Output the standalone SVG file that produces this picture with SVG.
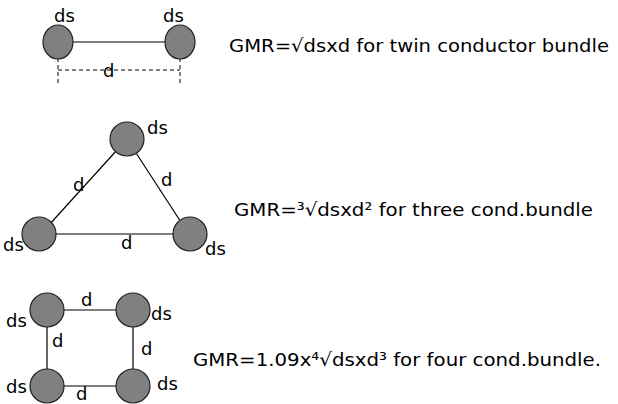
<svg xmlns="http://www.w3.org/2000/svg" width="618" height="404" viewBox="0 0 618 404">
<style>
.n{fill:#808080;stroke:#222;stroke-width:1.2}
.l{stroke:#000;stroke-width:1.2;fill:none}
.dash{stroke:#000;stroke-width:1;stroke-dasharray:4,3;fill:none}
text{font-family:"DejaVu Sans",sans-serif;font-size:18px;fill:#000}
</style>
<rect width="618" height="404" fill="#fff"/>
<g id="connectors">
<line class="l" x1="58" y1="42" x2="180" y2="42"/>
<line class="dash" x1="58" y1="58" x2="58" y2="84"/>
<line class="dash" x1="180" y1="58" x2="180" y2="84"/>
<line class="dash" x1="58" y1="70" x2="180" y2="70"/>
<line class="l" x1="127" y1="139" x2="39" y2="236"/>
<line class="l" x1="127" y1="139" x2="190" y2="236"/>
<line class="l" x1="39" y1="234" x2="190" y2="234"/>
<line class="l" x1="47" y1="310" x2="133" y2="310"/>
<line class="l" x1="47" y1="310" x2="47" y2="386"/>
<line class="l" x1="133" y1="310" x2="133" y2="386"/>
<line class="l" x1="47" y1="386" x2="133" y2="386"/>
</g>
<g id="twin">
<ellipse class="n" cx="58" cy="42" rx="15" ry="17"/>
<ellipse class="n" cx="180" cy="42" rx="15" ry="17"/>
<text x="54" y="22">ds</text><text x="163" y="22">ds</text>
<text x="103" y="77">d</text>
<text x="229" y="52" textLength="380" lengthAdjust="spacingAndGlyphs">GMR=√dsxd for twin conductor bundle</text>
</g>
<g id="three">
<circle class="n" cx="127" cy="139" r="17"/>
<circle class="n" cx="39" cy="234" r="17"/>
<circle class="n" cx="190" cy="234" r="17"/>
<text x="147" y="134">ds</text>
<text x="73" y="191">d</text><text x="161" y="186">d</text>
<text x="121" y="249">d</text>
<text x="3" y="251">ds</text><text x="205" y="255">ds</text>
<text x="234" y="216" textLength="359" lengthAdjust="spacingAndGlyphs">GMR=³√dsxd² for three cond.bundle</text>
</g>
<g id="four">
<circle class="n" cx="47" cy="310" r="17"/>
<circle class="n" cx="133" cy="310" r="17"/>
<circle class="n" cx="47" cy="386" r="17"/>
<circle class="n" cx="133" cy="386" r="17"/>
<text x="6" y="327">ds</text><text x="151" y="320">ds</text>
<text x="6" y="393">ds</text><text x="157" y="390">ds</text>
<text x="81" y="306">d</text><text x="52" y="347">d</text>
<text x="141" y="355">d</text><text x="76" y="400">d</text>
<text x="193" y="366" textLength="408" lengthAdjust="spacingAndGlyphs">GMR=1.09x⁴√dsxd³ for four cond.bundle.</text>
</g>
</svg>
